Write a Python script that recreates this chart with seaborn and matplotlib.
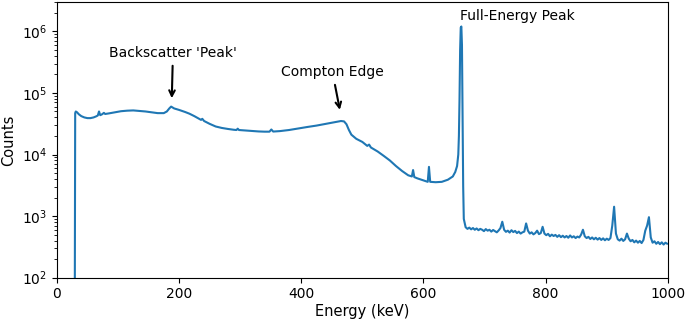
import numpy as np
import pandas as pd
import seaborn as sns
import matplotlib.pyplot as plt

# Cs-137 spectrum, hand
low_energy = [29, 30, 31, 33, 36, 40, 45, 50, 55, 60, 64, 67, 69, 71, 74, 77, 79,
              85, 95, 105, 115, 125, 135, 145, 155, 165, 175, 180, 184, 187, 192,
              200, 210, 217, 225, 232, 236, 238, 241, 250, 260, 270, 280, 290, 294,
              296, 298, 310, 320, 330, 340, 348, 351, 354, 365, 380, 395, 410, 425,
              440, 455, 465, 470, 474, 478, 482, 490, 500, 508, 511, 514, 525, 535,
              545, 555, 565, 575, 581, 583, 585, 590, 600, 607, 609, 611, 620, 630,
              640, 648, 652, 655, 657, 658, 659, 660, 661, 662, 663, 664, 665]
low_counts = [1, 47000, 50000, 48500, 45000, 42000, 40000, 39000, 39000, 40000,
              41500, 43000, 50000, 43500, 45000, 47500, 45500, 46500, 48500, 50500,
              51500, 52000, 51000, 50000, 48500, 47000, 47000, 50000, 56000, 60000,
              56000, 53000, 49000, 46000, 42000, 38500, 36500, 38000, 35000, 31500,
              28500, 27000, 26000, 25200, 25000, 26300, 25000, 24500, 24000, 23700,
              23500, 23500, 25500, 23600, 24000, 25000, 26500, 28000, 29500, 31500,
              33500, 35000, 34500, 31000, 25000, 21000, 18000, 16000, 13800, 14500,
              13000, 11200, 9500, 8000, 6500, 5400, 4600, 4400, 5600, 4300, 4100,
              3800, 3600, 6300, 3600, 3550, 3600, 3900, 4400, 5200, 6500, 10000,
              20000, 80000, 500000, 1150000, 1200000, 600000, 50000, 3000]

tail_energy = np.arange(666, 1001, 3)
tail_counts = [900, 660, 620, 650, 610, 640, 600, 630, 590, 620, 600, 570, 615, 580,
               600, 560, 595, 570, 545, 585, 640, 810, 600, 555, 580, 540, 590, 550,
               575, 530, 560, 520, 545, 560, 760, 580, 520, 545, 505, 530, 580, 510,
               530, 670, 520, 490, 515, 470, 500, 475, 495, 460, 490, 455, 480, 450,
               475, 445, 485, 450, 470, 440, 465, 450, 500, 600, 470, 440, 460, 425,
               450, 420, 445, 415, 440, 410, 435, 405, 430, 410, 440, 700, 1420, 520,
               420, 400, 430, 395, 420, 520, 430, 390, 410, 375, 400, 370, 395, 365,
               410, 580, 700, 960, 450, 370, 390, 355, 380, 350, 375, 345, 370, 355]

df = pd.DataFrame({
    "energy": list(low_energy) + list(tail_energy),
    "counts": list(low_counts) + list(tail_counts),
})

sns.set_style("ticks")
plt.rcParams["font.family"] = ["DejaVu Sans"]
plt.rcParams.update({"text.color": "black", "axes.labelcolor": "black",
                     "xtick.color": "black", "ytick.color": "black",
                     "axes.edgecolor": "black"})

fig, ax = plt.subplots(figsize=(6.85, 3.29), dpi=100)
fig.subplots_adjust(left=0.083, right=0.975, bottom=0.156, top=0.994)

sns.lineplot(data=df, x="energy", y="counts", color="#1f77b4", linewidth=1.5,
             ax=ax, sort=False)
ax.set_yscale("log")
ax.set_xlim(0, 1000)
ax.set_ylim(1e2, 3e6)
ax.set_xlabel("Energy (keV)", fontsize=10.5, labelpad=2)
ax.set_ylabel("Counts", fontsize=10.5)
ax.tick_params(labelsize=10)

# annotations
arrow = dict(arrowstyle="->", color="black", lw=1.5)
ax.annotate("Backscatter 'Peak'", xy=(188, 7.4e4), xytext=(190, 4.5e5),
            ha="center", va="center", fontsize=10, arrowprops=arrow)
ax.annotate("Compton Edge", xy=(464, 4.8e4), xytext=(451, 2.2e5),
            ha="center", va="center", fontsize=10, arrowprops=arrow)
ax.text(753, 1.8e6, "Full-Energy Peak", ha="center", va="center", fontsize=10)

fig.savefig("out.png", dpi=100)
